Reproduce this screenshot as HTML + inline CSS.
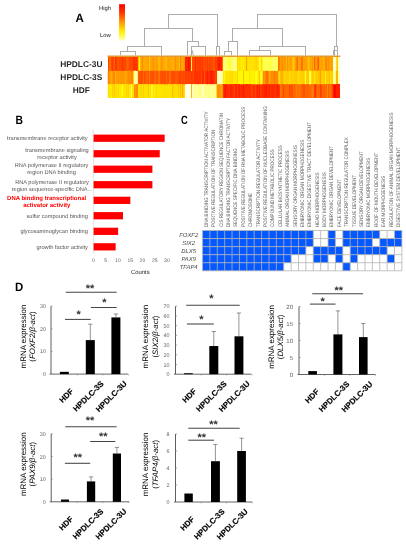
<!DOCTYPE html>
<html><head><meta charset="utf-8"><title>Figure</title>
<style>
html,body{margin:0;padding:0;background:#fff;}
body{width:406px;height:550px;overflow:hidden;}
svg{display:block;text-rendering:geometricPrecision;font-family:'Liberation Sans', Arial, sans-serif;}
</style></head><body>
<svg width="406" height="550" viewBox="0 0 406 550" font-family="Liberation Sans, Arial, sans-serif">
<rect width="406" height="550" fill="#fff"/>
<g shape-rendering="crispEdges">
<rect x="107.50" y="56.80" width="26.05" height="13.95" fill="#ff4900"/>
<rect x="107.50" y="70.70" width="26.05" height="13.75" fill="#ff9900"/>
<rect x="107.50" y="84.40" width="26.05" height="13.45" fill="#ffe900"/>
<rect x="133.50" y="56.80" width="4.45" height="13.95" fill="#ff3a00"/>
<rect x="133.50" y="70.70" width="4.45" height="13.75" fill="#ffff99"/>
<rect x="133.50" y="84.40" width="4.45" height="13.45" fill="#ff8a00"/>
<rect x="137.90" y="56.80" width="47.15" height="13.95" fill="#ffa400"/>
<rect x="137.90" y="70.70" width="47.15" height="13.75" fill="#ff5000"/>
<rect x="137.90" y="84.40" width="47.15" height="13.45" fill="#ffe200"/>
<rect x="185.00" y="56.80" width="5.85" height="13.95" fill="#ff2400"/>
<rect x="185.00" y="70.70" width="5.85" height="13.75" fill="#ff4200"/>
<rect x="185.00" y="84.40" width="5.85" height="13.45" fill="#ffffdd"/>
<rect x="190.80" y="56.80" width="1.25" height="13.95" fill="#ffff2a"/>
<rect x="190.80" y="70.70" width="1.25" height="13.75" fill="#ff3700"/>
<rect x="190.80" y="84.40" width="1.25" height="13.45" fill="#ffb600"/>
<rect x="192.00" y="56.80" width="24.55" height="13.95" fill="#ff4900"/>
<rect x="192.00" y="70.70" width="24.55" height="13.75" fill="#ff2f00"/>
<rect x="192.00" y="84.40" width="24.55" height="13.45" fill="#ffff90"/>
<rect x="216.50" y="56.80" width="6.25" height="13.95" fill="#ff1d00"/>
<rect x="216.50" y="70.70" width="6.25" height="13.75" fill="#ffffa2"/>
<rect x="216.50" y="84.40" width="6.25" height="13.45" fill="#ffa000"/>
<rect x="222.70" y="56.80" width="14.35" height="13.95" fill="#ffff6e"/>
<rect x="222.70" y="70.70" width="14.35" height="13.75" fill="#ffe900"/>
<rect x="222.70" y="84.40" width="14.35" height="13.45" fill="#ff2800"/>
<rect x="237.00" y="56.80" width="25.75" height="13.95" fill="#ffe200"/>
<rect x="237.00" y="70.70" width="25.75" height="13.75" fill="#fff800"/>
<rect x="237.00" y="84.40" width="25.75" height="13.45" fill="#ff2f00"/>
<rect x="262.70" y="56.80" width="15.55" height="13.95" fill="#ffff55"/>
<rect x="262.70" y="70.70" width="15.55" height="13.75" fill="#ff8a00"/>
<rect x="262.70" y="84.40" width="15.55" height="13.45" fill="#ff2f00"/>
<rect x="278.20" y="56.80" width="54.35" height="13.95" fill="#ffa000"/>
<rect x="278.20" y="70.70" width="54.35" height="13.75" fill="#ffcc00"/>
<rect x="278.20" y="84.40" width="54.35" height="13.45" fill="#ff6600"/>
<rect x="332.50" y="56.80" width="3.85" height="13.95" fill="#ffffbb"/>
<rect x="332.50" y="70.70" width="3.85" height="13.75" fill="#ffff80"/>
<rect x="332.50" y="84.40" width="3.85" height="13.45" fill="#ff1d00"/>
<rect x="336.30" y="56.80" width="1.75" height="13.95" fill="#ffc800"/>
<rect x="336.30" y="70.70" width="1.75" height="13.75" fill="#ffb600"/>
<rect x="336.30" y="84.40" width="1.75" height="13.45" fill="#ff1d00"/>
<rect x="338.00" y="56.80" width="2.35" height="13.95" fill="#ffffcc"/>
<rect x="338.00" y="70.70" width="2.35" height="13.75" fill="#ffffaa"/>
<rect x="338.00" y="84.40" width="2.35" height="13.45" fill="#ff1d00"/>
</g>
<defs><filter id="hb" x="0" y="0" width="1" height="1"><feGaussianBlur stdDeviation="0.45 0"/></filter><clipPath id="hc"><rect x="107.5" y="56.8" width="232.8" height="41"/></clipPath></defs>
<g clip-path="url(#hc)"><g filter="url(#hb)">
<rect x="107.50" y="70.70" width="1.10" height="13.70" fill="#ff7100"/>
<rect x="107.50" y="84.40" width="1.10" height="13.40" fill="#ffdd00"/>
<rect x="108.60" y="70.70" width="0.70" height="13.70" fill="#ff8500"/>
<rect x="108.60" y="84.40" width="0.70" height="13.40" fill="#ffdd00"/>
<rect x="109.30" y="56.80" width="1.40" height="13.90" fill="#ff7b00"/>
<rect x="110.70" y="70.70" width="0.70" height="13.70" fill="#ffaf00"/>
<rect x="111.40" y="70.70" width="0.70" height="13.70" fill="#ffb200"/>
<rect x="112.10" y="56.80" width="0.90" height="13.90" fill="#ff3b00"/>
<rect x="112.10" y="84.40" width="0.90" height="13.40" fill="#ffcc00"/>
<rect x="113.00" y="70.70" width="0.70" height="13.70" fill="#ff8500"/>
<rect x="113.00" y="84.40" width="0.70" height="13.40" fill="#ffe500"/>
<rect x="113.70" y="56.80" width="1.40" height="13.90" fill="#ff6200"/>
<rect x="113.70" y="70.70" width="1.40" height="13.70" fill="#ff8800"/>
<rect x="113.70" y="84.40" width="1.40" height="13.40" fill="#ffc600"/>
<rect x="115.10" y="56.80" width="1.10" height="13.90" fill="#ff2f00"/>
<rect x="115.10" y="70.70" width="1.10" height="13.70" fill="#ffb300"/>
<rect x="116.20" y="56.80" width="0.70" height="13.90" fill="#ff3e00"/>
<rect x="116.20" y="84.40" width="0.70" height="13.40" fill="#ffd700"/>
<rect x="117.60" y="56.80" width="1.10" height="13.90" fill="#ff5800"/>
<rect x="117.60" y="84.40" width="1.10" height="13.40" fill="#ffd400"/>
<rect x="118.70" y="70.70" width="0.70" height="13.70" fill="#ff9d00"/>
<rect x="119.40" y="56.80" width="1.40" height="13.90" fill="#ff5000"/>
<rect x="119.40" y="70.70" width="1.40" height="13.70" fill="#ff9b00"/>
<rect x="119.40" y="84.40" width="1.40" height="13.40" fill="#ffed00"/>
<rect x="120.80" y="70.70" width="0.90" height="13.70" fill="#ff9500"/>
<rect x="121.70" y="56.80" width="1.40" height="13.90" fill="#ff3700"/>
<rect x="121.70" y="84.40" width="1.40" height="13.40" fill="#ffff0c"/>
<rect x="123.10" y="84.40" width="0.90" height="13.40" fill="#ffe000"/>
<rect x="124.00" y="84.40" width="1.40" height="13.40" fill="#ffe800"/>
<rect x="125.40" y="56.80" width="0.90" height="13.90" fill="#ff4000"/>
<rect x="125.40" y="70.70" width="0.90" height="13.70" fill="#ffb700"/>
<rect x="125.40" y="84.40" width="0.90" height="13.40" fill="#ffe600"/>
<rect x="126.30" y="56.80" width="0.70" height="13.90" fill="#ff6700"/>
<rect x="126.30" y="70.70" width="0.70" height="13.70" fill="#ffa000"/>
<rect x="126.30" y="84.40" width="0.70" height="13.40" fill="#ffc600"/>
<rect x="127.00" y="56.80" width="0.70" height="13.90" fill="#ff7400"/>
<rect x="127.70" y="56.80" width="1.40" height="13.90" fill="#ff5d00"/>
<rect x="127.70" y="70.70" width="1.40" height="13.70" fill="#ff8900"/>
<rect x="127.70" y="84.40" width="1.40" height="13.40" fill="#ffd100"/>
<rect x="129.10" y="56.80" width="0.70" height="13.90" fill="#ff4b00"/>
<rect x="129.10" y="70.70" width="0.70" height="13.70" fill="#ff8c00"/>
<rect x="129.10" y="84.40" width="0.70" height="13.40" fill="#ffe900"/>
<rect x="129.80" y="70.70" width="1.10" height="13.70" fill="#ff9300"/>
<rect x="130.90" y="70.70" width="1.10" height="13.70" fill="#ff8400"/>
<rect x="130.90" y="84.40" width="1.10" height="13.40" fill="#ffff5e"/>
<rect x="132.00" y="56.80" width="1.40" height="13.90" fill="#ff4400"/>
<rect x="132.00" y="70.70" width="1.40" height="13.70" fill="#ff8800"/>
<rect x="132.00" y="84.40" width="1.40" height="13.40" fill="#ffdd00"/>
<rect x="133.50" y="56.80" width="0.90" height="13.90" fill="#ff2b00"/>
<rect x="133.50" y="70.70" width="0.90" height="13.70" fill="#ffff3e"/>
<rect x="134.40" y="70.70" width="0.70" height="13.70" fill="#ffffa3"/>
<rect x="135.10" y="70.70" width="1.10" height="13.70" fill="#ffffa6"/>
<rect x="135.10" y="84.40" width="1.10" height="13.40" fill="#ffa400"/>
<rect x="137.90" y="56.80" width="0.90" height="13.90" fill="#ffad00"/>
<rect x="137.90" y="70.70" width="0.90" height="13.70" fill="#ff5a00"/>
<rect x="138.80" y="56.80" width="1.40" height="13.90" fill="#fff900"/>
<rect x="140.20" y="84.40" width="1.40" height="13.40" fill="#ffd600"/>
<rect x="141.60" y="56.80" width="0.70" height="13.90" fill="#ffa600"/>
<rect x="141.60" y="70.70" width="0.70" height="13.70" fill="#ff4500"/>
<rect x="142.30" y="56.80" width="0.70" height="13.90" fill="#ff7e00"/>
<rect x="143.00" y="70.70" width="0.70" height="13.70" fill="#ff7200"/>
<rect x="143.00" y="84.40" width="0.70" height="13.40" fill="#ffc500"/>
<rect x="143.70" y="56.80" width="0.90" height="13.90" fill="#ffac00"/>
<rect x="144.60" y="56.80" width="1.40" height="13.90" fill="#ffad00"/>
<rect x="146.00" y="70.70" width="0.90" height="13.70" fill="#ff6b00"/>
<rect x="146.90" y="70.70" width="1.40" height="13.70" fill="#ff6100"/>
<rect x="146.90" y="84.40" width="1.40" height="13.40" fill="#ffdf00"/>
<rect x="148.30" y="56.80" width="0.70" height="13.90" fill="#ffa000"/>
<rect x="148.30" y="84.40" width="0.70" height="13.40" fill="#ffbd00"/>
<rect x="149.00" y="56.80" width="0.90" height="13.90" fill="#ffca00"/>
<rect x="149.00" y="70.70" width="0.90" height="13.70" fill="#ff8000"/>
<rect x="149.00" y="84.40" width="0.90" height="13.40" fill="#ffe200"/>
<rect x="149.90" y="70.70" width="1.40" height="13.70" fill="#ff5400"/>
<rect x="151.30" y="84.40" width="1.40" height="13.40" fill="#ffff48"/>
<rect x="152.70" y="56.80" width="0.90" height="13.90" fill="#ff8600"/>
<rect x="152.70" y="70.70" width="0.90" height="13.70" fill="#ff4d00"/>
<rect x="152.70" y="84.40" width="0.90" height="13.40" fill="#ffdd00"/>
<rect x="153.60" y="70.70" width="1.40" height="13.70" fill="#ff6100"/>
<rect x="153.60" y="84.40" width="1.40" height="13.40" fill="#fff000"/>
<rect x="155.00" y="70.70" width="1.40" height="13.70" fill="#ff7000"/>
<rect x="156.40" y="56.80" width="0.90" height="13.90" fill="#ff9800"/>
<rect x="156.40" y="70.70" width="0.90" height="13.70" fill="#ff4d00"/>
<rect x="156.40" y="84.40" width="0.90" height="13.40" fill="#ffda00"/>
<rect x="157.30" y="70.70" width="1.10" height="13.70" fill="#ff5600"/>
<rect x="157.30" y="84.40" width="1.10" height="13.40" fill="#ffed00"/>
<rect x="158.40" y="56.80" width="1.40" height="13.90" fill="#ffc100"/>
<rect x="158.40" y="70.70" width="1.40" height="13.70" fill="#ff8900"/>
<rect x="159.80" y="70.70" width="0.90" height="13.70" fill="#ff5900"/>
<rect x="159.80" y="84.40" width="0.90" height="13.40" fill="#ffec00"/>
<rect x="160.70" y="56.80" width="0.90" height="13.90" fill="#ffa000"/>
<rect x="160.70" y="70.70" width="0.90" height="13.70" fill="#ff5500"/>
<rect x="161.60" y="56.80" width="1.10" height="13.90" fill="#ff9600"/>
<rect x="162.70" y="70.70" width="0.90" height="13.70" fill="#ff4400"/>
<rect x="163.60" y="56.80" width="0.90" height="13.90" fill="#ffaf00"/>
<rect x="163.60" y="70.70" width="0.90" height="13.70" fill="#ff6a00"/>
<rect x="163.60" y="84.40" width="0.90" height="13.40" fill="#ffe400"/>
<rect x="164.50" y="56.80" width="1.10" height="13.90" fill="#ffb500"/>
<rect x="164.50" y="70.70" width="1.10" height="13.70" fill="#ff3d00"/>
<rect x="165.60" y="56.80" width="1.40" height="13.90" fill="#ffbc00"/>
<rect x="165.60" y="70.70" width="1.40" height="13.70" fill="#ff6800"/>
<rect x="167.00" y="70.70" width="0.90" height="13.70" fill="#ff5100"/>
<rect x="169.00" y="56.80" width="1.10" height="13.90" fill="#ff9c00"/>
<rect x="169.00" y="70.70" width="1.10" height="13.70" fill="#ff7100"/>
<rect x="169.00" y="84.40" width="1.10" height="13.40" fill="#ffe500"/>
<rect x="170.10" y="56.80" width="1.10" height="13.90" fill="#ffaf00"/>
<rect x="170.10" y="70.70" width="1.10" height="13.70" fill="#ff6c00"/>
<rect x="171.20" y="70.70" width="0.70" height="13.70" fill="#ff4a00"/>
<rect x="171.90" y="56.80" width="1.40" height="13.90" fill="#ffac00"/>
<rect x="171.90" y="84.40" width="1.40" height="13.40" fill="#ffc000"/>
<rect x="173.30" y="56.80" width="0.70" height="13.90" fill="#ffb800"/>
<rect x="173.30" y="70.70" width="0.70" height="13.70" fill="#ff4300"/>
<rect x="173.30" y="84.40" width="0.70" height="13.40" fill="#ffd700"/>
<rect x="174.00" y="84.40" width="0.90" height="13.40" fill="#ffd900"/>
<rect x="174.90" y="56.80" width="0.90" height="13.90" fill="#ff8600"/>
<rect x="175.80" y="56.80" width="0.70" height="13.90" fill="#ffa800"/>
<rect x="175.80" y="70.70" width="0.70" height="13.70" fill="#ff7400"/>
<rect x="175.80" y="84.40" width="0.70" height="13.40" fill="#ffd600"/>
<rect x="176.50" y="70.70" width="1.40" height="13.70" fill="#ff5500"/>
<rect x="177.90" y="84.40" width="1.10" height="13.40" fill="#ffcc00"/>
<rect x="179.00" y="56.80" width="0.90" height="13.90" fill="#ffca00"/>
<rect x="179.00" y="70.70" width="0.90" height="13.70" fill="#ff4200"/>
<rect x="179.00" y="84.40" width="0.90" height="13.40" fill="#ffdd00"/>
<rect x="179.90" y="56.80" width="1.10" height="13.90" fill="#ff7d00"/>
<rect x="179.90" y="70.70" width="1.10" height="13.70" fill="#ff4200"/>
<rect x="179.90" y="84.40" width="1.10" height="13.40" fill="#ffbc00"/>
<rect x="181.00" y="56.80" width="1.10" height="13.90" fill="#ffab00"/>
<rect x="181.00" y="70.70" width="1.10" height="13.70" fill="#ff5000"/>
<rect x="181.00" y="84.40" width="1.10" height="13.40" fill="#ffdf00"/>
<rect x="182.10" y="70.70" width="1.10" height="13.70" fill="#ff4e00"/>
<rect x="182.10" y="84.40" width="1.10" height="13.40" fill="#ff9900"/>
<rect x="183.20" y="56.80" width="1.10" height="13.90" fill="#ffaa00"/>
<rect x="183.20" y="70.70" width="1.10" height="13.70" fill="#ff4600"/>
<rect x="184.30" y="56.80" width="0.70" height="13.90" fill="#ff8e00"/>
<rect x="184.30" y="70.70" width="0.70" height="13.70" fill="#ff4f00"/>
<rect x="184.30" y="84.40" width="0.70" height="13.40" fill="#ffdc00"/>
<rect x="185.00" y="70.70" width="1.10" height="13.70" fill="#ff4000"/>
<rect x="187.00" y="84.40" width="1.40" height="13.40" fill="#ffffe8"/>
<rect x="188.40" y="56.80" width="0.90" height="13.90" fill="#ff0600"/>
<rect x="189.30" y="84.40" width="1.40" height="13.40" fill="#ffffff"/>
<rect x="192.70" y="56.80" width="0.90" height="13.90" fill="#ff4d00"/>
<rect x="192.70" y="70.70" width="0.90" height="13.70" fill="#ff5500"/>
<rect x="192.70" y="84.40" width="0.90" height="13.40" fill="#ffffda"/>
<rect x="195.00" y="56.80" width="0.90" height="13.90" fill="#ff2000"/>
<rect x="195.00" y="84.40" width="0.90" height="13.40" fill="#ffff8f"/>
<rect x="195.90" y="70.70" width="0.70" height="13.70" fill="#ff3100"/>
<rect x="195.90" y="84.40" width="0.70" height="13.40" fill="#ffffae"/>
<rect x="196.60" y="56.80" width="1.10" height="13.90" fill="#ff4800"/>
<rect x="196.60" y="84.40" width="1.10" height="13.40" fill="#ffffac"/>
<rect x="197.70" y="56.80" width="1.40" height="13.90" fill="#ff3900"/>
<rect x="197.70" y="70.70" width="1.40" height="13.70" fill="#ff3900"/>
<rect x="199.10" y="56.80" width="0.90" height="13.90" fill="#ff3e00"/>
<rect x="199.10" y="84.40" width="0.90" height="13.40" fill="#ffff79"/>
<rect x="200.00" y="56.80" width="0.90" height="13.90" fill="#ff3800"/>
<rect x="200.90" y="56.80" width="1.40" height="13.90" fill="#ff4200"/>
<rect x="200.90" y="70.70" width="1.40" height="13.70" fill="#ff4800"/>
<rect x="200.90" y="84.40" width="1.40" height="13.40" fill="#ffff87"/>
<rect x="202.30" y="56.80" width="0.90" height="13.90" fill="#ff3300"/>
<rect x="202.30" y="70.70" width="0.90" height="13.70" fill="#ff2200"/>
<rect x="202.30" y="84.40" width="0.90" height="13.40" fill="#ffffff"/>
<rect x="203.20" y="56.80" width="1.10" height="13.90" fill="#ff4c00"/>
<rect x="204.30" y="70.70" width="0.70" height="13.70" fill="#ff6700"/>
<rect x="204.30" y="84.40" width="0.70" height="13.40" fill="#ffff9f"/>
<rect x="205.00" y="84.40" width="1.10" height="13.40" fill="#ffff6d"/>
<rect x="206.10" y="56.80" width="0.70" height="13.90" fill="#ff5800"/>
<rect x="206.80" y="56.80" width="1.40" height="13.90" fill="#ff3c00"/>
<rect x="206.80" y="70.70" width="1.40" height="13.70" fill="#ff1f00"/>
<rect x="208.20" y="56.80" width="0.70" height="13.90" fill="#ff5500"/>
<rect x="208.20" y="84.40" width="0.70" height="13.40" fill="#ffff70"/>
<rect x="208.90" y="70.70" width="0.70" height="13.70" fill="#ff3f00"/>
<rect x="209.60" y="56.80" width="0.70" height="13.90" fill="#ff3900"/>
<rect x="209.60" y="70.70" width="0.70" height="13.70" fill="#ff3000"/>
<rect x="209.60" y="84.40" width="0.70" height="13.40" fill="#ffff85"/>
<rect x="210.30" y="70.70" width="1.10" height="13.70" fill="#ff1800"/>
<rect x="210.30" y="84.40" width="1.10" height="13.40" fill="#ffff98"/>
<rect x="211.40" y="70.70" width="1.10" height="13.70" fill="#ff0a00"/>
<rect x="211.40" y="84.40" width="1.10" height="13.40" fill="#ffff85"/>
<rect x="212.50" y="70.70" width="0.90" height="13.70" fill="#ff3200"/>
<rect x="213.40" y="56.80" width="1.10" height="13.90" fill="#ff6100"/>
<rect x="214.50" y="56.80" width="0.90" height="13.90" fill="#ff5300"/>
<rect x="215.40" y="56.80" width="1.10" height="13.90" fill="#ff3900"/>
<rect x="215.40" y="70.70" width="1.10" height="13.70" fill="#ff5100"/>
<rect x="215.40" y="84.40" width="1.10" height="13.40" fill="#ffff8b"/>
<rect x="216.50" y="56.80" width="0.90" height="13.90" fill="#ff4600"/>
<rect x="216.50" y="84.40" width="0.90" height="13.40" fill="#ffa000"/>
<rect x="217.40" y="70.70" width="1.10" height="13.70" fill="#ffff92"/>
<rect x="217.40" y="84.40" width="1.10" height="13.40" fill="#ff9500"/>
<rect x="218.50" y="70.70" width="1.10" height="13.70" fill="#ffffd1"/>
<rect x="218.50" y="84.40" width="1.10" height="13.40" fill="#ff8200"/>
<rect x="219.60" y="70.70" width="0.70" height="13.70" fill="#ffffc9"/>
<rect x="219.60" y="84.40" width="0.70" height="13.40" fill="#ff9200"/>
<rect x="220.30" y="70.70" width="1.10" height="13.70" fill="#ffffc2"/>
<rect x="221.40" y="56.80" width="0.90" height="13.90" fill="#ff2700"/>
<rect x="221.40" y="84.40" width="0.90" height="13.40" fill="#ffaf00"/>
<rect x="222.30" y="84.40" width="0.40" height="13.40" fill="#ffb300"/>
<rect x="222.70" y="56.80" width="0.70" height="13.90" fill="#ffff69"/>
<rect x="222.70" y="84.40" width="0.70" height="13.40" fill="#ff5100"/>
<rect x="223.40" y="56.80" width="0.70" height="13.90" fill="#ffff2e"/>
<rect x="224.10" y="70.70" width="0.90" height="13.70" fill="#fffc00"/>
<rect x="224.10" y="84.40" width="0.90" height="13.40" fill="#ff1d00"/>
<rect x="225.00" y="56.80" width="1.40" height="13.90" fill="#ffff72"/>
<rect x="225.00" y="84.40" width="1.40" height="13.40" fill="#ff1300"/>
<rect x="226.40" y="70.70" width="0.70" height="13.70" fill="#ffd400"/>
<rect x="226.40" y="84.40" width="0.70" height="13.40" fill="#ff2800"/>
<rect x="227.10" y="56.80" width="0.70" height="13.90" fill="#ffff38"/>
<rect x="227.10" y="70.70" width="0.70" height="13.70" fill="#ffdb00"/>
<rect x="227.10" y="84.40" width="0.70" height="13.40" fill="#ff2d00"/>
<rect x="227.80" y="56.80" width="0.70" height="13.90" fill="#ffff7c"/>
<rect x="228.50" y="56.80" width="0.90" height="13.90" fill="#ffff46"/>
<rect x="228.50" y="70.70" width="0.90" height="13.70" fill="#ffe800"/>
<rect x="229.40" y="56.80" width="1.10" height="13.90" fill="#ffff0d"/>
<rect x="229.40" y="70.70" width="1.10" height="13.70" fill="#ffd100"/>
<rect x="229.40" y="84.40" width="1.10" height="13.40" fill="#ff3e00"/>
<rect x="230.50" y="84.40" width="0.90" height="13.40" fill="#ff1400"/>
<rect x="231.40" y="56.80" width="1.40" height="13.90" fill="#ffff67"/>
<rect x="231.40" y="70.70" width="1.40" height="13.70" fill="#ffd600"/>
<rect x="232.80" y="56.80" width="0.70" height="13.90" fill="#ffff6d"/>
<rect x="232.80" y="84.40" width="0.70" height="13.40" fill="#ff2100"/>
<rect x="233.50" y="56.80" width="0.90" height="13.90" fill="#ffff88"/>
<rect x="233.50" y="84.40" width="0.90" height="13.40" fill="#ff3e00"/>
<rect x="234.40" y="56.80" width="0.90" height="13.90" fill="#ffff93"/>
<rect x="234.40" y="84.40" width="0.90" height="13.40" fill="#ff5200"/>
<rect x="235.30" y="56.80" width="0.70" height="13.90" fill="#ffff9f"/>
<rect x="235.30" y="84.40" width="0.70" height="13.40" fill="#ff2100"/>
<rect x="236.00" y="56.80" width="1.00" height="13.90" fill="#ffff6a"/>
<rect x="236.00" y="84.40" width="1.00" height="13.40" fill="#ff2100"/>
<rect x="237.00" y="56.80" width="0.90" height="13.90" fill="#ffdb00"/>
<rect x="237.00" y="70.70" width="0.90" height="13.70" fill="#ffce00"/>
<rect x="237.00" y="84.40" width="0.90" height="13.40" fill="#ff4100"/>
<rect x="237.90" y="84.40" width="1.40" height="13.40" fill="#ff2700"/>
<rect x="239.30" y="56.80" width="0.70" height="13.90" fill="#ffdb00"/>
<rect x="239.30" y="84.40" width="0.70" height="13.40" fill="#ff1d00"/>
<rect x="240.00" y="70.70" width="1.10" height="13.70" fill="#fffc00"/>
<rect x="241.10" y="56.80" width="0.70" height="13.90" fill="#fffc00"/>
<rect x="241.10" y="84.40" width="0.70" height="13.40" fill="#ff2b00"/>
<rect x="241.80" y="70.70" width="1.10" height="13.70" fill="#ffff0f"/>
<rect x="242.90" y="56.80" width="1.40" height="13.90" fill="#fff100"/>
<rect x="242.90" y="70.70" width="1.40" height="13.70" fill="#ffbf00"/>
<rect x="242.90" y="84.40" width="1.40" height="13.40" fill="#ff1800"/>
<rect x="244.30" y="70.70" width="0.70" height="13.70" fill="#ffff05"/>
<rect x="246.10" y="56.80" width="1.10" height="13.90" fill="#ff9e00"/>
<rect x="247.20" y="56.80" width="0.70" height="13.90" fill="#ffdf00"/>
<rect x="249.30" y="70.70" width="0.90" height="13.70" fill="#ffd900"/>
<rect x="251.30" y="70.70" width="1.10" height="13.70" fill="#fff000"/>
<rect x="251.30" y="84.40" width="1.10" height="13.40" fill="#ff5300"/>
<rect x="252.40" y="70.70" width="1.40" height="13.70" fill="#fff100"/>
<rect x="253.80" y="56.80" width="1.10" height="13.90" fill="#ffdf00"/>
<rect x="253.80" y="70.70" width="1.10" height="13.70" fill="#ffef00"/>
<rect x="254.90" y="56.80" width="0.90" height="13.90" fill="#ffdb00"/>
<rect x="254.90" y="70.70" width="0.90" height="13.70" fill="#ffff00"/>
<rect x="254.90" y="84.40" width="0.90" height="13.40" fill="#ff4c00"/>
<rect x="255.80" y="56.80" width="1.40" height="13.90" fill="#ffd200"/>
<rect x="255.80" y="70.70" width="1.40" height="13.70" fill="#ffff0c"/>
<rect x="257.20" y="70.70" width="0.70" height="13.70" fill="#fffc00"/>
<rect x="257.20" y="84.40" width="0.70" height="13.40" fill="#ff1a00"/>
<rect x="257.90" y="56.80" width="1.10" height="13.90" fill="#ffe200"/>
<rect x="257.90" y="70.70" width="1.10" height="13.70" fill="#ffe300"/>
<rect x="259.00" y="56.80" width="0.90" height="13.90" fill="#ffff59"/>
<rect x="259.00" y="70.70" width="0.90" height="13.70" fill="#ffc400"/>
<rect x="259.00" y="84.40" width="0.90" height="13.40" fill="#ff2100"/>
<rect x="259.90" y="56.80" width="0.70" height="13.90" fill="#ffff12"/>
<rect x="259.90" y="70.70" width="0.70" height="13.70" fill="#ffe200"/>
<rect x="260.60" y="70.70" width="0.70" height="13.70" fill="#ffff5d"/>
<rect x="260.60" y="84.40" width="0.70" height="13.40" fill="#ff5800"/>
<rect x="261.30" y="70.70" width="0.90" height="13.70" fill="#ffff35"/>
<rect x="262.70" y="56.80" width="0.70" height="13.90" fill="#ffff81"/>
<rect x="262.70" y="70.70" width="0.70" height="13.70" fill="#ff9c00"/>
<rect x="262.70" y="84.40" width="0.70" height="13.40" fill="#ff2600"/>
<rect x="263.40" y="56.80" width="1.10" height="13.90" fill="#ffff41"/>
<rect x="264.50" y="70.70" width="0.70" height="13.70" fill="#ffa000"/>
<rect x="264.50" y="84.40" width="0.70" height="13.40" fill="#ff1900"/>
<rect x="265.20" y="70.70" width="0.70" height="13.70" fill="#ff8100"/>
<rect x="265.20" y="84.40" width="0.70" height="13.40" fill="#ff2b00"/>
<rect x="265.90" y="70.70" width="0.90" height="13.70" fill="#ff7800"/>
<rect x="265.90" y="84.40" width="0.90" height="13.40" fill="#ff1200"/>
<rect x="266.80" y="70.70" width="1.10" height="13.70" fill="#ff6700"/>
<rect x="267.90" y="56.80" width="1.40" height="13.90" fill="#ffff41"/>
<rect x="269.30" y="70.70" width="1.10" height="13.70" fill="#ffb700"/>
<rect x="269.30" y="84.40" width="1.10" height="13.40" fill="#ff1100"/>
<rect x="270.40" y="56.80" width="0.90" height="13.90" fill="#ffff44"/>
<rect x="270.40" y="84.40" width="0.90" height="13.40" fill="#ff4400"/>
<rect x="271.30" y="56.80" width="0.90" height="13.90" fill="#ffff41"/>
<rect x="271.30" y="84.40" width="0.90" height="13.40" fill="#ff2b00"/>
<rect x="272.20" y="70.70" width="1.10" height="13.70" fill="#ff9200"/>
<rect x="272.20" y="84.40" width="1.10" height="13.40" fill="#ff2400"/>
<rect x="273.30" y="56.80" width="0.70" height="13.90" fill="#ffff9a"/>
<rect x="273.30" y="84.40" width="0.70" height="13.40" fill="#ff2d00"/>
<rect x="274.00" y="70.70" width="0.90" height="13.70" fill="#ff7a00"/>
<rect x="274.90" y="56.80" width="1.40" height="13.90" fill="#ffff66"/>
<rect x="277.20" y="70.70" width="0.90" height="13.70" fill="#ff8600"/>
<rect x="277.20" y="84.40" width="0.90" height="13.40" fill="#ff1900"/>
<rect x="278.20" y="56.80" width="1.40" height="13.90" fill="#ff6800"/>
<rect x="278.20" y="84.40" width="1.40" height="13.40" fill="#ff1900"/>
<rect x="279.60" y="70.70" width="0.70" height="13.70" fill="#ffeb00"/>
<rect x="280.30" y="70.70" width="1.10" height="13.70" fill="#ffb300"/>
<rect x="280.30" y="84.40" width="1.10" height="13.40" fill="#ff8100"/>
<rect x="281.40" y="56.80" width="1.40" height="13.90" fill="#ff8a00"/>
<rect x="281.40" y="70.70" width="1.40" height="13.70" fill="#ffa400"/>
<rect x="281.40" y="84.40" width="1.40" height="13.40" fill="#ff6a00"/>
<rect x="282.80" y="84.40" width="1.40" height="13.40" fill="#ff4700"/>
<rect x="284.20" y="56.80" width="1.10" height="13.90" fill="#ff9200"/>
<rect x="284.20" y="70.70" width="1.10" height="13.70" fill="#ffd600"/>
<rect x="285.30" y="70.70" width="0.70" height="13.70" fill="#ffcd00"/>
<rect x="286.00" y="56.80" width="0.70" height="13.90" fill="#ffc300"/>
<rect x="286.00" y="84.40" width="0.70" height="13.40" fill="#ff6700"/>
<rect x="287.40" y="56.80" width="0.90" height="13.90" fill="#ff8a00"/>
<rect x="288.30" y="56.80" width="0.90" height="13.90" fill="#ffb400"/>
<rect x="288.30" y="70.70" width="0.90" height="13.70" fill="#ffcb00"/>
<rect x="289.20" y="70.70" width="1.10" height="13.70" fill="#ffe100"/>
<rect x="289.20" y="84.40" width="1.10" height="13.40" fill="#ff3e00"/>
<rect x="290.30" y="70.70" width="1.10" height="13.70" fill="#ffd500"/>
<rect x="290.30" y="84.40" width="1.10" height="13.40" fill="#ff5a00"/>
<rect x="291.40" y="84.40" width="1.10" height="13.40" fill="#ff4300"/>
<rect x="292.50" y="56.80" width="1.10" height="13.90" fill="#ffd300"/>
<rect x="292.50" y="70.70" width="1.10" height="13.70" fill="#ffd600"/>
<rect x="293.60" y="56.80" width="0.70" height="13.90" fill="#ffe600"/>
<rect x="293.60" y="84.40" width="0.70" height="13.40" fill="#ff7600"/>
<rect x="294.30" y="84.40" width="1.40" height="13.40" fill="#ff6200"/>
<rect x="295.70" y="84.40" width="0.90" height="13.40" fill="#ff8d00"/>
<rect x="296.60" y="56.80" width="1.10" height="13.90" fill="#ff5900"/>
<rect x="297.70" y="70.70" width="0.70" height="13.70" fill="#ffdc00"/>
<rect x="297.70" y="84.40" width="0.70" height="13.40" fill="#ff8000"/>
<rect x="298.40" y="70.70" width="1.10" height="13.70" fill="#ffe700"/>
<rect x="298.40" y="84.40" width="1.10" height="13.40" fill="#ff6a00"/>
<rect x="299.50" y="70.70" width="0.70" height="13.70" fill="#ffd200"/>
<rect x="299.50" y="84.40" width="0.70" height="13.40" fill="#ff8a00"/>
<rect x="300.20" y="70.70" width="1.10" height="13.70" fill="#ffd400"/>
<rect x="301.30" y="56.80" width="1.40" height="13.90" fill="#ff6000"/>
<rect x="301.30" y="84.40" width="1.40" height="13.40" fill="#ff6000"/>
<rect x="303.40" y="84.40" width="1.40" height="13.40" fill="#ff4500"/>
<rect x="304.80" y="70.70" width="1.40" height="13.70" fill="#ffff2a"/>
<rect x="304.80" y="84.40" width="1.40" height="13.40" fill="#ff6500"/>
<rect x="306.20" y="56.80" width="0.70" height="13.90" fill="#ff9f00"/>
<rect x="306.20" y="70.70" width="0.70" height="13.70" fill="#ffcb00"/>
<rect x="306.90" y="84.40" width="0.70" height="13.40" fill="#ff5a00"/>
<rect x="307.60" y="56.80" width="1.40" height="13.90" fill="#ffc200"/>
<rect x="309.00" y="56.80" width="0.90" height="13.90" fill="#ffbb00"/>
<rect x="309.00" y="70.70" width="0.90" height="13.70" fill="#ffff47"/>
<rect x="309.90" y="70.70" width="1.40" height="13.70" fill="#ffff49"/>
<rect x="311.30" y="56.80" width="1.40" height="13.90" fill="#ffad00"/>
<rect x="311.30" y="84.40" width="1.40" height="13.40" fill="#ff7900"/>
<rect x="312.70" y="56.80" width="0.70" height="13.90" fill="#ff6000"/>
<rect x="312.70" y="84.40" width="0.70" height="13.40" fill="#ff9a00"/>
<rect x="313.40" y="56.80" width="0.70" height="13.90" fill="#ffc500"/>
<rect x="313.40" y="84.40" width="0.70" height="13.40" fill="#ff7300"/>
<rect x="314.10" y="56.80" width="1.10" height="13.90" fill="#ff5b00"/>
<rect x="314.10" y="70.70" width="1.10" height="13.70" fill="#ffed00"/>
<rect x="314.10" y="84.40" width="1.10" height="13.40" fill="#ff4000"/>
<rect x="315.20" y="84.40" width="0.90" height="13.40" fill="#ff2100"/>
<rect x="316.10" y="56.80" width="1.40" height="13.90" fill="#ff9b00"/>
<rect x="317.50" y="56.80" width="1.40" height="13.90" fill="#ff5200"/>
<rect x="317.50" y="70.70" width="1.40" height="13.70" fill="#ffc400"/>
<rect x="318.90" y="70.70" width="0.90" height="13.70" fill="#ffcc00"/>
<rect x="318.90" y="84.40" width="0.90" height="13.40" fill="#ff7000"/>
<rect x="319.80" y="56.80" width="0.90" height="13.90" fill="#ffaa00"/>
<rect x="319.80" y="70.70" width="0.90" height="13.70" fill="#ff8b00"/>
<rect x="319.80" y="84.40" width="0.90" height="13.40" fill="#ff3200"/>
<rect x="320.70" y="70.70" width="0.90" height="13.70" fill="#ffab00"/>
<rect x="320.70" y="84.40" width="0.90" height="13.40" fill="#ff3e00"/>
<rect x="321.60" y="70.70" width="0.70" height="13.70" fill="#ffe900"/>
<rect x="323.00" y="56.80" width="1.40" height="13.90" fill="#ffb300"/>
<rect x="323.00" y="70.70" width="1.40" height="13.70" fill="#ffc500"/>
<rect x="324.40" y="84.40" width="0.70" height="13.40" fill="#ff6000"/>
<rect x="325.10" y="56.80" width="0.70" height="13.90" fill="#ff9300"/>
<rect x="325.10" y="70.70" width="0.70" height="13.70" fill="#fffe00"/>
<rect x="325.10" y="84.40" width="0.70" height="13.40" fill="#ff6800"/>
<rect x="325.80" y="56.80" width="1.10" height="13.90" fill="#ff7f00"/>
<rect x="326.90" y="84.40" width="1.40" height="13.40" fill="#ff8700"/>
<rect x="328.30" y="56.80" width="0.70" height="13.90" fill="#ff8c00"/>
<rect x="328.30" y="84.40" width="0.70" height="13.40" fill="#ff5700"/>
<rect x="329.00" y="70.70" width="0.70" height="13.70" fill="#ff8600"/>
<rect x="329.00" y="84.40" width="0.70" height="13.40" fill="#ff8300"/>
<rect x="329.70" y="56.80" width="0.70" height="13.90" fill="#ffa500"/>
<rect x="329.70" y="70.70" width="0.70" height="13.70" fill="#ffff1f"/>
<rect x="329.70" y="84.40" width="0.70" height="13.40" fill="#ff6300"/>
<rect x="330.40" y="84.40" width="1.40" height="13.40" fill="#ff7900"/>
<rect x="331.80" y="70.70" width="0.70" height="13.70" fill="#ffd600"/>
<rect x="331.80" y="84.40" width="0.70" height="13.40" fill="#ff2d00"/>
<rect x="333.90" y="56.80" width="1.10" height="13.90" fill="#ffffd4"/>
<rect x="333.90" y="70.70" width="1.10" height="13.70" fill="#ffffbf"/>
<rect x="333.90" y="84.40" width="1.10" height="13.40" fill="#ff0000"/>
<rect x="335.00" y="56.80" width="0.70" height="13.90" fill="#ffffc8"/>
<rect x="335.00" y="70.70" width="0.70" height="13.70" fill="#ffff59"/>
<rect x="335.00" y="84.40" width="0.70" height="13.40" fill="#ff0000"/>
<rect x="335.70" y="56.80" width="0.60" height="13.90" fill="#ffffc1"/>
</g></g>
<rect x="107.5" y="55.5" width="232.8" height="1.5" fill="#e39a30"/>
<path d="M168.1 14.5H217.9M168.5 14.5V28.3M217.5 14.5V46.4M144.1 28.5H192.9M144.5 28.5V46.4M192.5 28.5V41.5M127.1 46.5H161.9M127.5 46.5V51.3M161.5 46.5V55.4M120.1 51.5H135.9M120.5 51.5V55.4M135.5 51.5V55.4M187.1 41.5H198.9M187.5 41.5V55.4M198.5 41.5V46.4M191.1 46.5H205.9M191.5 46.5V55.4M205.5 46.5V55.4M191 55.4L192.2 50.5L193.4 55.4M216.1 46.5H219.9M216.5 46.5V55.4M219.5 46.5V55.4M257.1 14.5H336.9M257.5 14.5V28.4M336.5 14.5V46.5M232.1 28.5H282.9M232.5 28.5V41.5M282.5 28.5V46.5M228.1 41.5H237.9M228.5 41.5V51.3M237.5 41.5V55.4M224.1 51.5H231.9M224.5 51.5V55.4M231.5 51.5V55.4M259.1 46.5H305.9M305.5 46.5V55.4M259.5 46.5V50.5M249.1 50.5H270.9M249.5 50.5V55.4M270.5 50.5V55.4M334.1 46.5H337.9M334.5 46.5V55.4M337.5 46.5V55.4M333.1 50.5H336.9M333.5 50.5V55.4" fill="none" stroke="#a4a4a4" stroke-width="0.9"/>
<defs><linearGradient id="cb" x1="0" y1="0" x2="0" y2="1"><stop offset="0" stop-color="#ff0000"/><stop offset="0.2" stop-color="#ff2a00"/><stop offset="0.5" stop-color="#ff9a00"/><stop offset="0.75" stop-color="#ffee00"/><stop offset="0.9" stop-color="#ffff55"/><stop offset="1" stop-color="#ffffcc"/></linearGradient></defs>
<rect x="119.1" y="4.2" width="5.9" height="36.4" fill="url(#cb)"/>
<text x="98.9" y="10.4" font-size="5.9" fill="#222">High</text>
<text x="99.9" y="36.6" font-size="5.9" fill="#222">Low</text>
<text transform="translate(79.7 21.5) scale(0.95 1)" font-size="12.15" font-weight="bold" text-anchor="middle" fill="#000">A</text>
<text x="81.3" y="67.0" font-size="8.4" font-weight="bold" text-anchor="middle" fill="#2a2a2a">HPDLC-3U</text>
<text x="81.3" y="79.9" font-size="8.4" font-weight="bold" text-anchor="middle" fill="#2a2a2a">HPDLC-3S</text>
<text x="81.3" y="92.6" font-size="8.4" font-weight="bold" text-anchor="middle" fill="#2a2a2a">HDF</text>
<text transform="translate(15.4 123.7) scale(0.85 1)" font-size="12.1" font-weight="bold" fill="#000">B</text>
<path d="M93.4 129.8V253.8" stroke="#dadada" stroke-width="0.7" fill="none"/>
<rect x="93.60000000000001" y="134.60" width="71.05" height="7.25" fill="#ff0000"/>
<rect x="93.60000000000001" y="150.10" width="66.15" height="7.25" fill="#ff0000"/>
<rect x="93.60000000000001" y="165.60" width="58.80" height="7.25" fill="#ff0000"/>
<rect x="93.60000000000001" y="181.10" width="58.80" height="7.25" fill="#ff0000"/>
<rect x="93.60000000000001" y="196.70" width="36.75" height="7.25" fill="#ff0000"/>
<rect x="93.60000000000001" y="212.10" width="29.40" height="7.25" fill="#ff0000"/>
<rect x="93.60000000000001" y="227.70" width="24.50" height="7.25" fill="#ff0000"/>
<rect x="93.60000000000001" y="243.20" width="22.05" height="7.25" fill="#ff0000"/>
<text x="93.4" y="262.2" font-size="5.0" text-anchor="middle" fill="#5a5a5a">0</text>
<text x="105.7" y="262.2" font-size="5.0" text-anchor="middle" fill="#5a5a5a">5</text>
<text x="117.9" y="262.2" font-size="5.0" text-anchor="middle" fill="#5a5a5a">10</text>
<text x="130.2" y="262.2" font-size="5.0" text-anchor="middle" fill="#5a5a5a">15</text>
<text x="142.4" y="262.2" font-size="5.0" text-anchor="middle" fill="#5a5a5a">20</text>
<text x="154.7" y="262.2" font-size="5.0" text-anchor="middle" fill="#5a5a5a">25</text>
<text x="166.9" y="262.2" font-size="5.0" text-anchor="middle" fill="#5a5a5a">30</text>
<text x="140.3" y="273.6" font-size="5.9" text-anchor="middle" fill="#222">Counts</text>
<text x="47.4" y="140.1" font-size="5.65" text-anchor="middle" fill="#555">transmembrane receptor activity</text>
<text x="57.0" y="152.3" font-size="5.65" text-anchor="middle" fill="#555">transmembrane signaling</text>
<text x="57.0" y="159.3" font-size="5.65" text-anchor="middle" fill="#555">receptor activity</text>
<text x="51.5" y="166.6" font-size="5.65" text-anchor="middle" fill="#555">RNA polymerase II regulatory</text>
<text x="51.5" y="173.6" font-size="5.65" text-anchor="middle" fill="#555">region DNA binding</text>
<text x="52.0" y="183.6" font-size="5.65" text-anchor="middle" fill="#555">RNA polymerase II regulatory</text>
<text x="52.0" y="190.6" font-size="5.65" text-anchor="middle" fill="#555">region sequence-specific DNA...</text>
<text x="46.6" y="200.0" font-size="5.97" font-weight="bold" text-anchor="middle" fill="#ff0000">DNA binding transcriptional</text>
<text x="46.8" y="207.4" font-size="5.97" font-weight="bold" text-anchor="middle" fill="#ff0000">activator activity</text>
<text x="87.9" y="218.1" font-size="5.65" text-anchor="end" fill="#555">sulfur compound binding</text>
<text x="87.9" y="233.3" font-size="5.65" text-anchor="end" fill="#555">glycosaminoglycan binding</text>
<text x="87.9" y="248.9" font-size="5.65" text-anchor="end" fill="#555">growth factor activity</text>
<text transform="translate(181.1 123.8) scale(0.79 1)" font-size="11.8" font-weight="bold" fill="#000">C</text>
<rect x="202.50" y="230.50" width="110.77" height="8.06" fill="#0558ff"/>
<rect x="328.05" y="230.50" width="7.38" height="8.06" fill="#0558ff"/>
<rect x="342.81" y="230.50" width="36.92" height="8.06" fill="#0558ff"/>
<rect x="394.51" y="230.50" width="7.38" height="8.06" fill="#0558ff"/>
<text x="188.7" y="237.1" font-size="5.9" font-style="italic" text-anchor="middle" fill="#444">FOXF2</text>
<rect x="202.50" y="238.56" width="110.77" height="8.06" fill="#0558ff"/>
<rect x="328.05" y="238.56" width="7.38" height="8.06" fill="#0558ff"/>
<rect x="342.81" y="238.56" width="29.54" height="8.06" fill="#0558ff"/>
<rect x="379.74" y="238.56" width="22.16" height="8.06" fill="#0558ff"/>
<text x="188.7" y="245.2" font-size="5.9" font-style="italic" text-anchor="middle" fill="#444">SIX2</text>
<rect x="202.50" y="246.62" width="103.39" height="8.06" fill="#0558ff"/>
<rect x="313.27" y="246.62" width="29.54" height="8.06" fill="#0558ff"/>
<rect x="350.20" y="246.62" width="36.92" height="8.06" fill="#0558ff"/>
<text x="188.7" y="253.2" font-size="5.9" font-style="italic" text-anchor="middle" fill="#444">DLX5</text>
<rect x="202.50" y="254.68" width="88.62" height="8.06" fill="#0558ff"/>
<rect x="313.27" y="254.68" width="14.77" height="8.06" fill="#0558ff"/>
<rect x="335.43" y="254.68" width="7.38" height="8.06" fill="#0558ff"/>
<rect x="350.20" y="254.68" width="7.38" height="8.06" fill="#0558ff"/>
<rect x="387.12" y="254.68" width="7.38" height="8.06" fill="#0558ff"/>
<text x="188.7" y="261.3" font-size="5.9" font-style="italic" text-anchor="middle" fill="#444">PAX9</text>
<rect x="202.50" y="262.74" width="81.23" height="8.06" fill="#0558ff"/>
<rect x="342.81" y="262.74" width="7.38" height="8.06" fill="#0558ff"/>
<text x="188.7" y="269.4" font-size="5.9" font-style="italic" text-anchor="middle" fill="#444">TFAP4</text>
<path d="M202.50 230.50V270.80M209.88 230.50V270.80M217.27 230.50V270.80M224.66 230.50V270.80M232.04 230.50V270.80M239.43 230.50V270.80M246.81 230.50V270.80M254.19 230.50V270.80M261.58 230.50V270.80M268.97 230.50V270.80M276.35 230.50V270.80M283.74 230.50V270.80M291.12 230.50V270.80M298.50 230.50V270.80M305.89 230.50V270.80M313.27 230.50V270.80M320.66 230.50V270.80M328.05 230.50V270.80M335.43 230.50V270.80M342.81 230.50V270.80M350.20 230.50V270.80M357.59 230.50V270.80M364.97 230.50V270.80M372.36 230.50V270.80M379.74 230.50V270.80M387.12 230.50V270.80M394.51 230.50V270.80M401.89 230.50V270.80M202.50 230.50H401.89M202.50 238.56H401.89M202.50 246.62H401.89M202.50 254.68H401.89M202.50 262.74H401.89M202.50 270.80H401.89" fill="none" stroke="#b4b4b4" stroke-width="0.8"/>
<text transform="translate(207.94 227.0) rotate(-90) scale(1 1.14)" font-size="4.56" fill="#5e5e5e">DNA BINDING TRANSCRIPTION ACTIVATOR ACTIVITY</text>
<text transform="translate(215.33 227.0) rotate(-90) scale(1 1.14)" font-size="4.56" fill="#5e5e5e">POSITIVE REGULATION OF TRANSCRIPTION</text>
<text transform="translate(222.71 227.0) rotate(-90) scale(1 1.14)" font-size="4.56" fill="#5e5e5e">CIS REGULATORY REGION SEQUENCE CHROMATIN</text>
<text transform="translate(230.10 227.0) rotate(-90) scale(1 1.14)" font-size="4.56" fill="#5e5e5e">DNA BINDING TRANSCRIPTION FACTOR ACTIVITY</text>
<text transform="translate(237.48 227.0) rotate(-90) scale(1 1.14)" font-size="4.56" fill="#5e5e5e">SEQUENCE SPECIFIC DNA BINDING</text>
<text transform="translate(244.87 227.0) rotate(-90) scale(1 1.14)" font-size="4.56" fill="#5e5e5e">POSITIVE REGULATION OF RNA METABOLIC PROCESS</text>
<text transform="translate(252.25 227.0) rotate(-90) scale(1 1.14)" font-size="4.56" fill="#5e5e5e">CHROMOSOME</text>
<text transform="translate(259.64 227.0) rotate(-90) scale(1 1.14)" font-size="4.56" fill="#5e5e5e">TRANSCRIPTION REGULATOR ACTIVITY</text>
<text transform="translate(267.02 227.0) rotate(-90) scale(1 1.14)" font-size="4.56" fill="#5e5e5e">POSITIVE REGULATION OF NUCLEOBASE CONTAINING</text>
<text transform="translate(274.41 227.0) rotate(-90) scale(1 1.14)" font-size="4.56" fill="#5e5e5e">COMPOUND METABOLIC PROCESS</text>
<text transform="translate(281.79 227.0) rotate(-90) scale(1 1.14)" font-size="4.56" fill="#5e5e5e">CELLULAR BIOSYNTHETIC PROCESS</text>
<text transform="translate(289.18 227.0) rotate(-90) scale(1 1.14)" font-size="4.56" fill="#5e5e5e">ANIMAL ORGAN MORPHOGENESIS</text>
<text transform="translate(296.56 227.0) rotate(-90) scale(1 1.14)" font-size="4.56" fill="#5e5e5e">SENSORY ORGAN MORPHOGENESIS</text>
<text transform="translate(303.95 227.0) rotate(-90) scale(1 1.14)" font-size="4.56" fill="#5e5e5e">EMBRYONIC ORGAN MORPHOGENESIS</text>
<text transform="translate(311.33 227.0) rotate(-90) scale(1 1.14)" font-size="4.56" fill="#5e5e5e">EMBRYONIC DIGESTIVE TRACT DEVELOPMENT</text>
<text transform="translate(318.72 227.0) rotate(-90) scale(1 1.14)" font-size="4.56" fill="#5e5e5e">HEAD MORPHOGENESIS</text>
<text transform="translate(326.10 227.0) rotate(-90) scale(1 1.14)" font-size="4.56" fill="#5e5e5e">BODY MORPHOGENESIS</text>
<text transform="translate(333.49 227.0) rotate(-90) scale(1 1.14)" font-size="4.56" fill="#5e5e5e">EMBRYONIC ORGAN DEVELOPMENT</text>
<text transform="translate(340.87 227.0) rotate(-90) scale(1 1.14)" font-size="4.56" fill="#5e5e5e">FACE DEVELOPMENT</text>
<text transform="translate(348.26 227.0) rotate(-90) scale(1 1.14)" font-size="4.56" fill="#5e5e5e">TRANSCRIPTION REGULATOR COMPLEX</text>
<text transform="translate(355.64 227.0) rotate(-90) scale(1 1.14)" font-size="4.56" fill="#5e5e5e">TISSUE DEVELOPMENT</text>
<text transform="translate(363.03 227.0) rotate(-90) scale(1 1.14)" font-size="4.56" fill="#5e5e5e">SENSORY ORGAN DEVELOPMENT</text>
<text transform="translate(370.41 227.0) rotate(-90) scale(1 1.14)" font-size="4.56" fill="#5e5e5e">EMBRYONIC MORPHOGENESIS</text>
<text transform="translate(377.80 227.0) rotate(-90) scale(1 1.14)" font-size="4.56" fill="#5e5e5e">ROOF OF MOUTH DEVELOPMENT</text>
<text transform="translate(385.18 227.0) rotate(-90) scale(1 1.14)" font-size="4.56" fill="#5e5e5e">EAR MORPHOGENESIS</text>
<text transform="translate(392.57 227.0) rotate(-90) scale(1 1.14)" font-size="4.56" fill="#5e5e5e">REGULATION OF ANIMAL ORGAN MORPHOGENESIS</text>
<text transform="translate(399.95 227.0) rotate(-90) scale(1 1.14)" font-size="4.56" fill="#5e5e5e">DIGESTIVE SYSTEM DEVELOPMENT</text>
<text transform="translate(15.1 290.6) scale(0.95 1)" font-size="12.0" font-weight="bold" fill="#000">D</text>
<text transform="translate(25.7 336.5) rotate(-90)" font-size="7.97" text-anchor="middle" fill="#000">mRNA expression</text>
<text transform="translate(34.5 336.5) rotate(-90)" font-size="7.85" text-anchor="middle" fill="#000">(<tspan font-style="italic">FOXF2/β-act</tspan>)</text>
<path d="M51.0 306.1V374.1" stroke="#5e5e5e" stroke-width="1.0" fill="none"/>
<text x="46.0" y="376.1" font-size="5.4" text-anchor="end" fill="#636363">0</text>
<text x="46.0" y="353.4" font-size="5.4" text-anchor="end" fill="#636363">10</text>
<text x="46.0" y="330.8" font-size="5.4" text-anchor="end" fill="#636363">20</text>
<text x="46.0" y="308.1" font-size="5.4" text-anchor="end" fill="#636363">30</text>
<path d="M51.0 351.4h1.6M51.0 328.8h1.6M51.0 306.1h1.6" stroke="#808080" stroke-width="0.7" fill="none"/>
<path d="M49.5 374.1H128" stroke="#555" stroke-width="0.9" fill="none"/>
<path d="M77.5 374.1v1.3M103.0 374.1v1.3M128.5 374.1v1.3" stroke="#808080" stroke-width="0.6" fill="none"/>
<rect x="59.9" y="371.83" width="8.90" height="2.27" fill="#000"/>
<rect x="85.8" y="340.10" width="9.00" height="34.00" fill="#000"/>
<rect x="111.4" y="317.43" width="9.00" height="56.67" fill="#000"/>
<path d="M90.3 340.1V324.2M88.2 324.2h4.2" stroke="#666" stroke-width="0.7" fill="none"/>
<path d="M115.9 317.4V314.0M113.8 314.0h4.2" stroke="#666" stroke-width="0.7" fill="none"/>
<text transform="translate(74.0 391.9) rotate(-45)" font-size="7.9" font-weight="bold" text-anchor="end" fill="#000" stroke="#000" stroke-width="0.15">HDF</text>
<text transform="translate(104.2 384.2) rotate(-45)" font-size="7.9" font-weight="bold" text-anchor="end" fill="#000" stroke="#000" stroke-width="0.15">HPDLC-3S</text>
<text transform="translate(127.3 384.2) rotate(-45)" font-size="7.9" font-weight="bold" text-anchor="end" fill="#000" stroke="#000" stroke-width="0.15">HPDLC-3U</text>
<path d="M65.7 292.3H116.7" stroke="#444" stroke-width="1.05" fill="none"/>
<text x="90.1" y="291.9" font-size="11" font-weight="bold" text-anchor="middle" fill="#333">**</text>
<path d="M90.9 307.5H116.7" stroke="#444" stroke-width="1.05" fill="none"/>
<text x="104.3" y="305.9" font-size="11" font-weight="bold" text-anchor="middle" fill="#333">*</text>
<path d="M65 319.4H90.7" stroke="#444" stroke-width="1.05" fill="none"/>
<text x="78.6" y="317.5" font-size="11" font-weight="bold" text-anchor="middle" fill="#333">*</text>
<text transform="translate(147.6 336.6) rotate(-90)" font-size="7.97" text-anchor="middle" fill="#000">mRNA expression</text>
<text transform="translate(157.6 336.6) rotate(-90)" font-size="7.85" text-anchor="middle" fill="#000">(<tspan font-style="italic">SIX2/β-act</tspan>)</text>
<path d="M175.5 306.2V374.2" stroke="#5e5e5e" stroke-width="1.0" fill="none"/>
<text x="169.5" y="376.2" font-size="5.4" text-anchor="end" fill="#636363">0</text>
<text x="169.5" y="366.5" font-size="5.4" text-anchor="end" fill="#636363">10</text>
<text x="169.5" y="356.8" font-size="5.4" text-anchor="end" fill="#636363">20</text>
<text x="169.5" y="347.1" font-size="5.4" text-anchor="end" fill="#636363">30</text>
<text x="169.5" y="337.3" font-size="5.4" text-anchor="end" fill="#636363">40</text>
<text x="169.5" y="327.6" font-size="5.4" text-anchor="end" fill="#636363">50</text>
<text x="169.5" y="317.9" font-size="5.4" text-anchor="end" fill="#636363">60</text>
<text x="169.5" y="308.2" font-size="5.4" text-anchor="end" fill="#636363">70</text>
<path d="M175.5 364.5h1.6M175.5 354.8h1.6M175.5 345.1h1.6M175.5 335.3h1.6M175.5 325.6h1.6M175.5 315.9h1.6M175.5 306.2h1.6" stroke="#808080" stroke-width="0.7" fill="none"/>
<path d="M174.0 374.2H251.4" stroke="#555" stroke-width="0.9" fill="none"/>
<path d="M201.0 374.2v1.3M226.5 374.2v1.3M252.0 374.2v1.3" stroke="#808080" stroke-width="0.6" fill="none"/>
<rect x="184.1" y="373.23" width="8.70" height="0.97" fill="#000"/>
<rect x="209.3" y="346.03" width="9.00" height="28.17" fill="#000"/>
<rect x="234.5" y="336.31" width="8.90" height="37.89" fill="#000"/>
<path d="M213.8 346.0V331.5M211.7 331.5h4.2" stroke="#666" stroke-width="0.7" fill="none"/>
<path d="M238.9 336.3V313.0M236.8 313.0h4.2" stroke="#666" stroke-width="0.7" fill="none"/>
<text transform="translate(196.9 391.9) rotate(-45)" font-size="7.9" font-weight="bold" text-anchor="end" fill="#000" stroke="#000" stroke-width="0.15">HDF</text>
<text transform="translate(227.2 384.3) rotate(-45)" font-size="7.9" font-weight="bold" text-anchor="end" fill="#000" stroke="#000" stroke-width="0.15">HPDLC-3S</text>
<text transform="translate(250.3 384.3) rotate(-45)" font-size="7.9" font-weight="bold" text-anchor="end" fill="#000" stroke="#000" stroke-width="0.15">HPDLC-3U</text>
<path d="M186.2 305.3H239.7" stroke="#444" stroke-width="1.05" fill="none"/>
<text x="211.5" y="302.4" font-size="11" font-weight="bold" text-anchor="middle" fill="#333">*</text>
<path d="M186.9 324H213.8" stroke="#444" stroke-width="1.05" fill="none"/>
<text x="201.3" y="322.5" font-size="11" font-weight="bold" text-anchor="middle" fill="#333">*</text>
<text transform="translate(273.9 336.9) rotate(-90)" font-size="7.97" text-anchor="middle" fill="#000">mRNA expression</text>
<text transform="translate(283.2 336.9) rotate(-90)" font-size="7.85" text-anchor="middle" fill="#000">(<tspan font-style="italic">DLX5/β-act</tspan>)</text>
<path d="M299 306.5V374.5" stroke="#5e5e5e" stroke-width="1.0" fill="none"/>
<text x="293.0" y="376.5" font-size="6.0" text-anchor="end" fill="#636363">0</text>
<text x="293.0" y="359.5" font-size="6.0" text-anchor="end" fill="#636363">5</text>
<text x="293.0" y="342.5" font-size="6.0" text-anchor="end" fill="#636363">10</text>
<text x="293.0" y="325.5" font-size="6.0" text-anchor="end" fill="#636363">15</text>
<text x="293.0" y="308.5" font-size="6.0" text-anchor="end" fill="#636363">20</text>
<path d="M299 357.5h1.6M299 340.5h1.6M299 323.5h1.6M299 306.5h1.6" stroke="#808080" stroke-width="0.7" fill="none"/>
<path d="M297.5 374.5H375.5" stroke="#555" stroke-width="0.9" fill="none"/>
<path d="M324.5 374.5v1.3M350.0 374.5v1.3M375.5 374.5v1.3" stroke="#808080" stroke-width="0.6" fill="none"/>
<rect x="308.3" y="371.10" width="8.60" height="3.40" fill="#000"/>
<rect x="333.4" y="334.38" width="9.00" height="40.12" fill="#000"/>
<rect x="359" y="337.10" width="8.60" height="37.40" fill="#000"/>
<path d="M337.9 334.4V310.9M335.8 310.9h4.2" stroke="#666" stroke-width="0.7" fill="none"/>
<path d="M363.3 337.1V323.5M361.2 323.5h4.2" stroke="#666" stroke-width="0.7" fill="none"/>
<text transform="translate(319.6 392.2) rotate(-45)" font-size="7.9" font-weight="bold" text-anchor="end" fill="#000" stroke="#000" stroke-width="0.15">HDF</text>
<text transform="translate(349.9 384.6) rotate(-45)" font-size="7.9" font-weight="bold" text-anchor="end" fill="#000" stroke="#000" stroke-width="0.15">HPDLC-3S</text>
<text transform="translate(373.0 384.6) rotate(-45)" font-size="7.9" font-weight="bold" text-anchor="end" fill="#000" stroke="#000" stroke-width="0.15">HPDLC-3U</text>
<path d="M312.2 293.8H363" stroke="#444" stroke-width="1.05" fill="none"/>
<text x="338.8" y="294.4" font-size="11" font-weight="bold" text-anchor="middle" fill="#333">**</text>
<path d="M309.9 304.1H335.5" stroke="#444" stroke-width="1.05" fill="none"/>
<text x="322.7" y="305.2" font-size="11" font-weight="bold" text-anchor="middle" fill="#333">*</text>
<text transform="translate(25.7 464.2) rotate(-90)" font-size="7.97" text-anchor="middle" fill="#000">mRNA expression</text>
<text transform="translate(34.5 464.2) rotate(-90)" font-size="7.85" text-anchor="middle" fill="#000">(<tspan font-style="italic">PAX9/β-act</tspan>)</text>
<path d="M51.2 433.8V501.8" stroke="#5e5e5e" stroke-width="1.0" fill="none"/>
<text x="45.7" y="503.8" font-size="5.4" text-anchor="end" fill="#636363">0</text>
<text x="45.7" y="481.1" font-size="5.4" text-anchor="end" fill="#636363">10</text>
<text x="45.7" y="458.5" font-size="5.4" text-anchor="end" fill="#636363">20</text>
<text x="45.7" y="435.8" font-size="5.4" text-anchor="end" fill="#636363">30</text>
<path d="M51.2 479.1h1.6M51.2 456.5h1.6M51.2 433.8h1.6" stroke="#808080" stroke-width="0.7" fill="none"/>
<path d="M49.7 501.8H129.3" stroke="#555" stroke-width="0.9" fill="none"/>
<path d="M77.2 501.8v1.3M102.7 501.8v1.3M128.2 501.8v1.3" stroke="#808080" stroke-width="0.6" fill="none"/>
<rect x="61" y="499.53" width="8.00" height="2.27" fill="#000"/>
<rect x="86.9" y="481.40" width="8.30" height="20.40" fill="#000"/>
<rect x="112.8" y="453.52" width="8.20" height="48.28" fill="#000"/>
<path d="M91.1 481.4V476.9M89.0 476.9h4.2" stroke="#666" stroke-width="0.7" fill="none"/>
<path d="M116.9 453.5V447.4M114.8 447.4h4.2" stroke="#666" stroke-width="0.7" fill="none"/>
<text transform="translate(73.7 519.5) rotate(-45)" font-size="7.9" font-weight="bold" text-anchor="end" fill="#000" stroke="#000" stroke-width="0.15">HDF</text>
<text transform="translate(103.9 511.9) rotate(-45)" font-size="7.9" font-weight="bold" text-anchor="end" fill="#000" stroke="#000" stroke-width="0.15">HPDLC-3S</text>
<text transform="translate(127.0 511.9) rotate(-45)" font-size="7.9" font-weight="bold" text-anchor="end" fill="#000" stroke="#000" stroke-width="0.15">HPDLC-3U</text>
<path d="M65.3 426.8H116.6" stroke="#444" stroke-width="1.05" fill="none"/>
<text x="90.1" y="424.3" font-size="11" font-weight="bold" text-anchor="middle" fill="#333">**</text>
<path d="M90.2 441.5H115.3" stroke="#444" stroke-width="1.05" fill="none"/>
<text x="103.3" y="439.7" font-size="11" font-weight="bold" text-anchor="middle" fill="#333">**</text>
<path d="M64.9 463.3H90.2" stroke="#444" stroke-width="1.05" fill="none"/>
<text x="77.7" y="461.4" font-size="11" font-weight="bold" text-anchor="middle" fill="#333">**</text>
<text transform="translate(147.9 464.4) rotate(-90)" font-size="7.97" text-anchor="middle" fill="#000">mRNA expression</text>
<text transform="translate(157.9 464.4) rotate(-90)" font-size="7.85" text-anchor="middle" fill="#000">(<tspan font-style="italic">TFAP4/β-act</tspan>)</text>
<path d="M175.5 434.0V502.0" stroke="#5e5e5e" stroke-width="1.0" fill="none"/>
<text x="169.5" y="504.0" font-size="5.4" text-anchor="end" fill="#636363">0</text>
<text x="169.5" y="487.0" font-size="5.4" text-anchor="end" fill="#636363">2</text>
<text x="169.5" y="470.0" font-size="5.4" text-anchor="end" fill="#636363">4</text>
<text x="169.5" y="453.0" font-size="5.4" text-anchor="end" fill="#636363">6</text>
<text x="169.5" y="436.0" font-size="5.4" text-anchor="end" fill="#636363">8</text>
<path d="M175.5 485.0h1.6M175.5 468.0h1.6M175.5 451.0h1.6M175.5 434.0h1.6" stroke="#808080" stroke-width="0.7" fill="none"/>
<path d="M174.0 502.0H252.4" stroke="#555" stroke-width="0.9" fill="none"/>
<path d="M201.0 502.0v1.3M226.5 502.0v1.3M252.0 502.0v1.3" stroke="#808080" stroke-width="0.6" fill="none"/>
<rect x="184.4" y="493.50" width="8.40" height="8.50" fill="#000"/>
<rect x="211.0" y="461.20" width="8.90" height="40.80" fill="#000"/>
<rect x="237.2" y="451.00" width="8.70" height="51.00" fill="#000"/>
<path d="M215.4 461.2V444.4M213.3 444.4h4.2" stroke="#666" stroke-width="0.7" fill="none"/>
<path d="M241.6 451.0V438.2M239.5 438.2h4.2" stroke="#666" stroke-width="0.7" fill="none"/>
<text transform="translate(194.9 519.8) rotate(-45)" font-size="7.9" font-weight="bold" text-anchor="end" fill="#000" stroke="#000" stroke-width="0.15">HDF</text>
<text transform="translate(225.2 512.1) rotate(-45)" font-size="7.9" font-weight="bold" text-anchor="end" fill="#000" stroke="#000" stroke-width="0.15">HPDLC-3S</text>
<text transform="translate(248.3 512.1) rotate(-45)" font-size="7.9" font-weight="bold" text-anchor="end" fill="#000" stroke="#000" stroke-width="0.15">HPDLC-3U</text>
<path d="M188.3 428.2H239.7" stroke="#444" stroke-width="1.05" fill="none"/>
<text x="213.5" y="428.3" font-size="11" font-weight="bold" text-anchor="middle" fill="#333">**</text>
<path d="M188.3 440.2H214.0" stroke="#444" stroke-width="1.05" fill="none"/>
<text x="201.7" y="440.7" font-size="11" font-weight="bold" text-anchor="middle" fill="#333">**</text>
</svg>
</body></html>
